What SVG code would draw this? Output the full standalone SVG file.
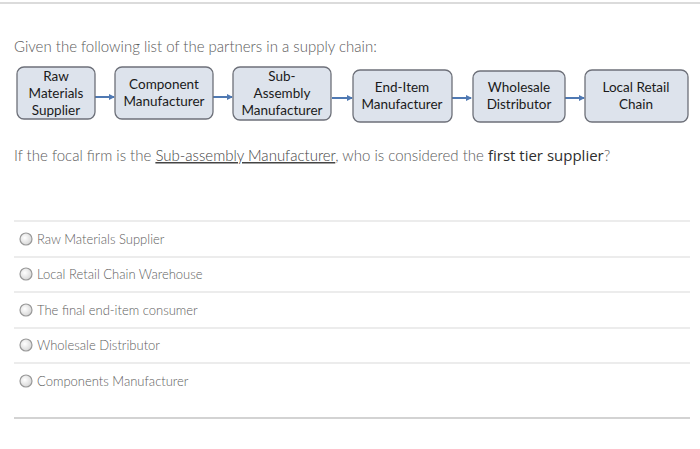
<svg xmlns="http://www.w3.org/2000/svg" width="700" height="449" viewBox="0 0 700 449">
<style>
.bx{fill:#dde3ec;stroke:#6d7079;stroke-width:1.3}
.bt{font-family:Lato,"Liberation Sans",sans-serif;font-size:13.5px;fill:#1a1a1a;text-anchor:middle}
.q{font-family:Lato,"Liberation Sans",sans-serif;font-size:15px;fill:#5a5a5a;font-weight:300}
.op{font-family:Lato,"Liberation Sans",sans-serif;font-size:13px;fill:#5e5e5e;font-weight:300}
.sep{stroke:#e6e6e6;stroke-width:1.5}
.ar{stroke:#4f79b3;stroke-width:2;fill:none}
</style>
<defs>
<marker id="ah" viewBox="0 0 6 6" refX="5" refY="3" markerWidth="3" markerHeight="3" orient="auto">
<path d="M0,0 L6,3 L0,6 z" fill="#4f79b3"/>
</marker>
<radialGradient id="rg" cx="0.4" cy="0.4" r="0.6"><stop offset="0" stop-color="#ffffff"/><stop offset="1" stop-color="#d8d8d8"/></radialGradient>
</defs>
<rect x="0" y="0" width="700" height="449" fill="#ffffff"/>
<line x1="0" y1="3" x2="700" y2="3" stroke="#cfcfcf" stroke-width="1.5"/>
<text class="q" x="14" y="52">Given the following list of the partners in a supply chain:</text>
<g id="connectors">
<line class="ar" x1="95" y1="97" x2="114" y2="97" marker-end="url(#ah)"/>
<line class="ar" x1="213" y1="97" x2="232" y2="97" marker-end="url(#ah)"/>
<line class="ar" x1="332" y1="98" x2="352" y2="98" marker-end="url(#ah)"/>
<line class="ar" x1="452" y1="98" x2="471" y2="98" marker-end="url(#ah)"/>
<line class="ar" x1="565" y1="98" x2="584" y2="98" marker-end="url(#ah)"/>
</g>
<g id="raw">
<rect class="bx" x="17" y="67" width="78" height="52" rx="7"/>
<text class="bt" x="56" y="81">Raw</text>
<text class="bt" x="56" y="98">Materials</text>
<text class="bt" x="56" y="115">Supplier</text>
</g>
<g id="component">
<rect class="bx" x="115" y="67" width="98" height="52" rx="7"/>
<text class="bt" x="164" y="89">Component</text>
<text class="bt" x="164" y="106">Manufacturer</text>
</g>
<g id="subassembly">
<rect class="bx" x="233" y="67" width="98" height="53" rx="7"/>
<text class="bt" x="282" y="81">Sub-</text>
<text class="bt" x="282" y="98">Assembly</text>
<text class="bt" x="282" y="115">Manufacturer</text>
</g>
<g id="enditem">
<rect class="bx" x="353" y="70" width="99" height="52" rx="7"/>
<text class="bt" x="402" y="92">End-Item</text>
<text class="bt" x="402" y="109">Manufacturer</text>
</g>
<g id="wholesale">
<rect class="bx" x="473" y="71" width="92" height="51" rx="7"/>
<text class="bt" x="519" y="92">Wholesale</text>
<text class="bt" x="519" y="109">Distributor</text>
</g>
<g id="retail">
<rect class="bx" x="585" y="70" width="103" height="52" rx="7"/>
<text class="bt" x="636" y="92">Local Retail</text>
<text class="bt" x="636" y="109">Chain</text>
</g>
<text class="q" x="14" y="161">If the focal firm is the <tspan fill="#444" text-decoration="underline">Sub-assembly Manufacturer</tspan>, who is considered the <tspan font-family="'Open Sans',sans-serif" font-weight="400" fill="#2e2e2e">first tier supplier</tspan>?</text>
<line class="sep" x1="14" y1="221" x2="690" y2="221"/>
<line class="sep" x1="14" y1="257" x2="690" y2="257"/>
<line class="sep" x1="14" y1="292" x2="690" y2="292"/>
<line class="sep" x1="14" y1="328" x2="690" y2="328"/>
<line class="sep" x1="14" y1="363" x2="690" y2="363"/>
<line x1="14" y1="418" x2="690" y2="418" stroke="#c4c4c4" stroke-width="1.5"/>
<circle cx="26" cy="239" r="6" fill="url(#rg)" stroke="#999" stroke-width="1.2"/>
<text class="op" x="37" y="244">Raw Materials Supplier</text>
<circle cx="26" cy="274" r="6" fill="url(#rg)" stroke="#999" stroke-width="1.2"/>
<text class="op" x="37" y="279">Local Retail Chain Warehouse</text>
<circle cx="26" cy="310" r="6" fill="url(#rg)" stroke="#999" stroke-width="1.2"/>
<text class="op" x="37" y="315">The final end-item consumer</text>
<circle cx="26" cy="345" r="6" fill="url(#rg)" stroke="#999" stroke-width="1.2"/>
<text class="op" x="37" y="350">Wholesale Distributor</text>
<circle cx="26" cy="381" r="6" fill="url(#rg)" stroke="#999" stroke-width="1.2"/>
<text class="op" x="37" y="386">Components Manufacturer</text>
</svg>
